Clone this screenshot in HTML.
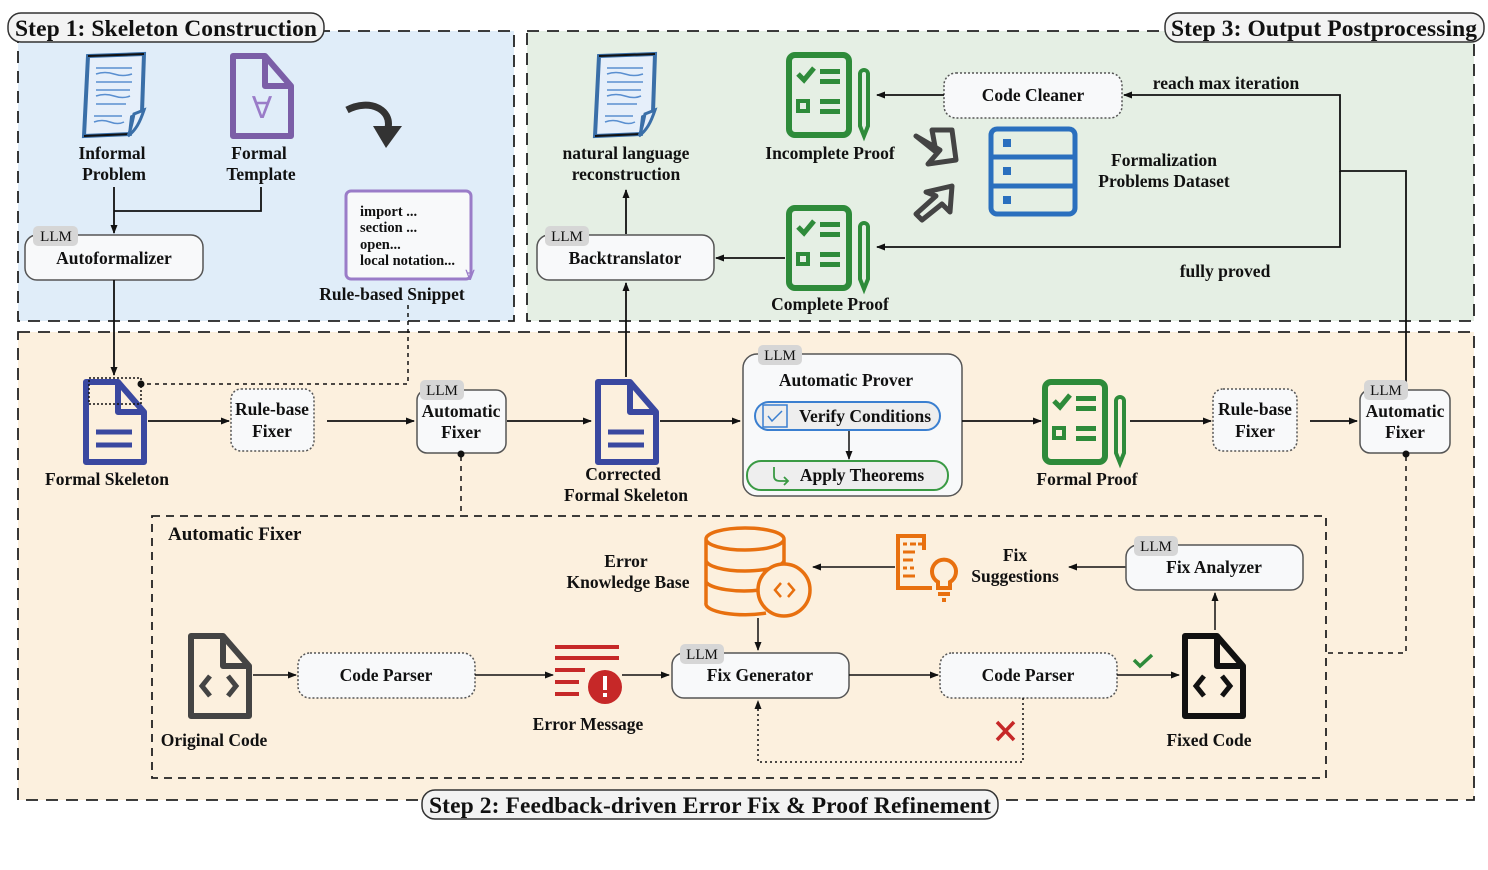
<!DOCTYPE html>
<html><head><meta charset="utf-8"><style>
html,body{margin:0;padding:0;background:#fff}
svg{display:block}
text{font-family:"Liberation Serif",serif;font-weight:bold;fill:#111}
</style></head><body>
<svg width="1488" height="870" viewBox="0 0 1488 870" xmlns="http://www.w3.org/2000/svg" font-size="17.5">
<defs>
<marker id="a" markerWidth="10" markerHeight="10" refX="8" refY="5" orient="auto" markerUnits="userSpaceOnUse"><path d="M0,1.5 L9,5 L0,8.5 Z" fill="#111"/></marker>
<g id="clip">
<rect x="3" y="3" width="60" height="80" rx="6" fill="none" stroke="#2e8b3a" stroke-width="6"/>
<path d="M12,22 l6,6 l10,-12" fill="none" stroke="#2e8b3a" stroke-width="5"/>
<rect x="34" y="17" width="20" height="5" fill="#2e8b3a"/><rect x="34" y="27" width="20" height="5" fill="#2e8b3a"/>
<rect x="12" y="49" width="10" height="10" fill="none" stroke="#2e8b3a" stroke-width="4"/>
<rect x="34" y="47" width="20" height="5" fill="#2e8b3a"/><rect x="34" y="57" width="20" height="5" fill="#2e8b3a"/>
<path d="M74,22 a4,4 0 0 1 8,0 v52 l-4,10 l-4,-10 z" fill="none" stroke="#2e8b3a" stroke-width="4"/>
</g>
<g id="scroll">
<path d="M8,4 L64,2 L62,60 L52,65 L50,82 L4,84 Z" fill="#e6effa" stroke="#3a6fa8" stroke-width="4"/>
<path d="M8,4 L64,2 M4,84 L50,82" stroke="#111" stroke-width="2" fill="none"/>
<path d="M48,84 C56,78 60,70 64,58 L54,62 C52,72 50,80 48,84Z" fill="#e6effa" stroke="#3a6fa8" stroke-width="3"/>
<g stroke="#5a8fd0" stroke-width="1.5" fill="none">
<path d="M16,16 h36 M16,22 q9,-3 18,0 t18,0 M16,30 h36 M16,38 h34 M16,44 q9,-3 18,0 t16,0 M16,52 h30 M14,64 h28 M14,70 q8,-3 16,0 t14,0"/></g>
</g>
<g id="doc">
<path d="M4,4 H36 L62,34 V84 H4 Z M36,4 V34 H62" fill="none" stroke-width="6" stroke-linejoin="round"/>
</g>
</defs>

<rect x="18" y="31" width="496" height="290" fill="#e0edf9" stroke="#222" stroke-width="1.8" stroke-dasharray="12,8"/>
<rect x="527" y="31" width="947" height="290" fill="#e5efe4" stroke="#222" stroke-width="1.8" stroke-dasharray="12,8"/>
<rect x="18" y="332" width="1456" height="468" fill="#fcf0de" stroke="#222" stroke-width="1.8" stroke-dasharray="12,8"/>
<rect x="152" y="516" width="1174" height="262" fill="none" stroke="#222" stroke-width="1.8" stroke-dasharray="8,6"/>

<rect x="8" y="13" width="316" height="29" rx="13" fill="#f3f3f3" stroke="#333" stroke-width="1.5"/>
<text x="166" y="36" font-size="23.5" text-anchor="middle" textLength="302">Step 1: Skeleton Construction</text>
<rect x="1165" y="13" width="319" height="29" rx="13" fill="#f3f3f3" stroke="#333" stroke-width="1.5"/>
<text x="1324" y="36" font-size="23.5" text-anchor="middle" textLength="306">Step 3: Output Postprocessing</text>
<rect x="422" y="790" width="576" height="29" rx="13" fill="#f3f3f3" stroke="#333" stroke-width="1.5"/>
<text x="710" y="813" font-size="23.5" text-anchor="middle" textLength="562">Step 2: Feedback-driven Error Fix &amp; Proof Refinement</text>

<!-- STEP 1 -->
<use href="#scroll" x="80" y="52"/>
<text x="112" y="159" text-anchor="middle">Informal</text>
<text x="114" y="180" text-anchor="middle">Problem</text>
<g stroke="#7b5ea7"><use href="#doc" x="229" y="52"/></g>
<text x="262" y="118" font-size="30" text-anchor="middle" style="font-weight:normal;fill:#9a7cc8">∀</text>
<text x="259" y="159" text-anchor="middle">Formal</text>
<text x="261" y="180" text-anchor="middle">Template</text>
<path d="M347,110 C370,98 392,110 388,128" fill="none" stroke="#333" stroke-width="7"/>
<path d="M373,126 L402,126 L386,148 Z" fill="#333"/>
<rect x="346" y="191" width="125" height="88" rx="5" fill="#f8f9fa" stroke="#9a7cc8" stroke-width="3"/>
<text x="360" y="216" font-size="14.5">import ...</text>
<text x="360" y="232" font-size="14.5">section ...</text>
<text x="360" y="249" font-size="14.5">open...</text>
<text x="360" y="265" font-size="14.5">local notation...</text>
<text x="470" y="280" font-size="14" style="font-weight:normal;fill:#9a7cc8" text-anchor="middle">∀</text>
<text x="392" y="300" text-anchor="middle">Rule-based Snippet</text>
<path d="M114,187 V233" stroke="#111" stroke-width="1.8" marker-end="url(#a)"/>
<path d="M261,187 V211 H114" stroke="#111" stroke-width="1.8" fill="none"/>
<rect x="25" y="235" width="178" height="45" rx="12" fill="#f8f9fa" stroke="#555" stroke-width="1.5"/>
<rect x="33" y="226" width="45" height="20" rx="5" fill="#d6d6d6"/>
<text x="56" y="241" font-size="15" text-anchor="middle" style="font-weight:normal">LLM</text>
<text x="114" y="264" text-anchor="middle">Autoformalizer</text>

<!-- STEP 3 -->
<use href="#scroll" x="591" y="52"/>
<text x="626" y="159" text-anchor="middle">natural language</text>
<text x="626" y="180" text-anchor="middle">reconstruction</text>
<use href="#clip" x="786" y="52"/>
<text x="830" y="159" text-anchor="middle">Incomplete Proof</text>
<use href="#clip" x="786" y="205"/>
<text x="830" y="310" text-anchor="middle">Complete Proof</text>
<rect x="944" y="73" width="178" height="45" rx="12" fill="#f8f9fa" stroke="#555" stroke-width="1.5" stroke-dasharray="2,2"/>
<text x="1033" y="101" text-anchor="middle">Code Cleaner</text>
<rect x="991" y="129" width="84" height="85" rx="6" fill="none" stroke="#2a6fbe" stroke-width="5"/>
<path d="M991,157 H1075 M991,186 H1075" stroke="#2a6fbe" stroke-width="5"/>
<rect x="1003" y="139" width="8" height="8" fill="#2a6fbe"/><rect x="1003" y="167" width="8" height="8" fill="#2a6fbe"/><rect x="1003" y="196" width="8" height="8" fill="#2a6fbe"/>
<path d="M916,136 L936,152 L932,130 L952,130 L956,160 L928,164 L940,150 Z" fill="none" stroke="#444" stroke-width="5" stroke-linejoin="round"/>
<path d="M916,214 L936,196 L926,192 L952,186 L950,212 L942,204 L922,220 Z" fill="none" stroke="#444" stroke-width="5" stroke-linejoin="round"/>
<text x="1164" y="166" text-anchor="middle">Formalization</text>
<text x="1164" y="187" text-anchor="middle">Problems Dataset</text>
<text x="1226" y="89" text-anchor="middle">reach max iteration</text>
<text x="1225" y="277" text-anchor="middle">fully proved</text>
<rect x="537" y="235" width="177" height="45" rx="12" fill="#f8f9fa" stroke="#555" stroke-width="1.5"/>
<rect x="545" y="226" width="44" height="20" rx="5" fill="#d6d6d6"/>
<text x="567" y="241" font-size="15" text-anchor="middle" style="font-weight:normal">LLM</text>
<text x="625" y="264" text-anchor="middle">Backtranslator</text>
<path d="M626,234 V190" stroke="#111" stroke-width="1.8" marker-end="url(#a)"/>
<path d="M785,258 H716" stroke="#111" stroke-width="1.8" marker-end="url(#a)"/>
<path d="M944,95 H877" stroke="#111" stroke-width="1.8" marker-end="url(#a)"/>
<path d="M1406,390 V171 H1340 V95 H1124" stroke="#111" stroke-width="1.8" fill="none" marker-end="url(#a)"/>
<path d="M1340,171 V247 H877" stroke="#111" stroke-width="1.8" fill="none" marker-end="url(#a)"/>

<!-- STEP 2 top row -->
<path d="M114,280 V375" stroke="#111" stroke-width="1.8" marker-end="url(#a)"/>
<g stroke="#3a48a0"><use href="#doc" x="82" y="378"/></g>
<path d="M96,432 H132 M96,445 H132" stroke="#3a48a0" stroke-width="5"/>
<rect x="89" y="378" width="52" height="26" fill="none" stroke="#111" stroke-width="1.5" stroke-dasharray="2,2"/>
<path d="M408,305 V384 H141" stroke="#111" stroke-width="1.5" fill="none" stroke-dasharray="4,4"/>
<circle cx="141" cy="384" r="3.5" fill="#111"/>
<text x="107" y="485" text-anchor="middle">Formal Skeleton</text>
<path d="M148,421 H229" stroke="#111" stroke-width="1.8" marker-end="url(#a)"/>
<rect x="231" y="389" width="83" height="62" rx="10" fill="#f8f9fa" stroke="#555" stroke-width="1.5" stroke-dasharray="2,2"/>
<text x="272" y="415" text-anchor="middle">Rule-base</text>
<text x="272" y="437" text-anchor="middle">Fixer</text>
<path d="M327,421 H414" stroke="#111" stroke-width="1.8" marker-end="url(#a)"/>
<rect x="417" y="390" width="89" height="63" rx="10" fill="#f8f9fa" stroke="#555" stroke-width="1.5"/>
<rect x="420" y="380" width="44" height="20" rx="5" fill="#d6d6d6"/>
<text x="442" y="395" font-size="15" text-anchor="middle" style="font-weight:normal">LLM</text>
<text x="461" y="417" text-anchor="middle">Automatic</text>
<text x="461" y="438" text-anchor="middle">Fixer</text>
<circle cx="461" cy="454" r="3.5" fill="#111"/>
<path d="M461,456 V516" stroke="#111" stroke-width="1.5" stroke-dasharray="5,5"/>
<path d="M507,421 H591" stroke="#111" stroke-width="1.8" marker-end="url(#a)"/>
<g stroke="#3a48a0"><use href="#doc" x="594" y="378"/></g>
<path d="M608,432 H644 M608,445 H644" stroke="#3a48a0" stroke-width="5"/>
<path d="M626,377 V283" stroke="#111" stroke-width="1.8" marker-end="url(#a)"/>
<text x="623" y="480" text-anchor="middle">Corrected</text>
<text x="626" y="501" text-anchor="middle">Formal Skeleton</text>
<path d="M660,421 H740" stroke="#111" stroke-width="1.8" marker-end="url(#a)"/>
<rect x="743" y="354" width="219" height="142" rx="14" fill="#f8f9fa" stroke="#555" stroke-width="1.5"/>
<rect x="758" y="345" width="44" height="20" rx="5" fill="#d6d6d6"/>
<text x="780" y="360" font-size="15" text-anchor="middle" style="font-weight:normal">LLM</text>
<text x="846" y="386" text-anchor="middle">Automatic Prover</text>
<rect x="755" y="402" width="185" height="28" rx="14" fill="#eeeeee" stroke="#3a7fd0" stroke-width="2"/>
<rect x="763" y="405" width="24" height="22" fill="none" stroke="#3a7fd0" stroke-width="1.5"/>
<path d="M768,416 l4,5 l10,-10" stroke="#3a7fd0" stroke-width="1.5" fill="none"/>
<text x="865" y="422" text-anchor="middle">Verify Conditions</text>
<path d="M849,431 V459" stroke="#111" stroke-width="1.5" marker-end="url(#a)"/>
<rect x="747" y="461" width="201" height="29" rx="14" fill="#eeeeee" stroke="#3a9a44" stroke-width="2"/>
<path d="M774,467 V476 Q774,481 780,481 H788 M784,477 l4,4 l-4,4" stroke="#3a9a44" stroke-width="1.8" fill="none"/>
<text x="862" y="481" text-anchor="middle">Apply Theorems</text>
<path d="M962,421 H1041" stroke="#111" stroke-width="1.8" marker-end="url(#a)"/>
<use href="#clip" x="1042" y="379"/>
<text x="1087" y="485" text-anchor="middle">Formal Proof</text>
<path d="M1130,421 H1211" stroke="#111" stroke-width="1.8" marker-end="url(#a)"/>
<rect x="1213" y="389" width="84" height="62" rx="10" fill="#f8f9fa" stroke="#555" stroke-width="1.5" stroke-dasharray="2,2"/>
<text x="1255" y="415" text-anchor="middle">Rule-base</text>
<text x="1255" y="437" text-anchor="middle">Fixer</text>
<path d="M1310,421 H1357" stroke="#111" stroke-width="1.8" marker-end="url(#a)"/>
<rect x="1360" y="390" width="90" height="63" rx="10" fill="#f8f9fa" stroke="#555" stroke-width="1.5"/>
<rect x="1364" y="380" width="44" height="20" rx="5" fill="#d6d6d6"/>
<text x="1386" y="395" font-size="15" text-anchor="middle" style="font-weight:normal">LLM</text>
<text x="1405" y="417" text-anchor="middle">Automatic</text>
<text x="1405" y="438" text-anchor="middle">Fixer</text>
<circle cx="1406" cy="454" r="3.5" fill="#111"/>
<path d="M1406,456 V653 H1326" stroke="#111" stroke-width="1.5" fill="none" stroke-dasharray="5,5"/>

<!-- inner automatic fixer -->
<text x="168" y="540" font-size="19">Automatic Fixer</text>
<text x="626" y="567" text-anchor="middle">Error</text>
<text x="628" y="588" text-anchor="middle">Knowledge Base</text>
<g fill="none" stroke="#e8700f" stroke-width="3.5">
<path d="M706,539 a39,11 0 0 0 78,0 a39,11 0 0 0 -78,0 V603 a39,11 0 0 0 60,10 M706,560 a39,11 0 0 0 78,0 M706,582 a39,11 0 0 0 54,8 M784,539 V564"/>
<circle cx="784" cy="590" r="26" fill="#fcf0de"/>
<path d="M781,583 l-6,7 l6,7 M788,583 l6,7 l-6,7" stroke-width="2.5"/>
</g>
<path d="M758,618 V650" stroke="#111" stroke-width="1.5" marker-end="url(#a)"/>
<path d="M895,567 H813" stroke="#111" stroke-width="1.5" marker-end="url(#a)"/>
<g fill="none" stroke="#e8700f" stroke-width="4">
<path d="M932,588 H898 V536 H924 V550"/>
<path d="M903,544 h4 M910,544 h6 M918,544 h4 M903,552 h12 M903,560 h10 M903,568 h4 M910,568 h4 M903,576 h12" stroke-width="3"/>
<path d="M938,582 a12,12 0 1 1 12,0 v6 h-12 z M938,594 h12 M942,600 h4"/>
</g>
<text x="1015" y="561" text-anchor="middle">Fix</text>
<text x="1015" y="582" text-anchor="middle">Suggestions</text>
<path d="M1126,567 H1069" stroke="#111" stroke-width="1.5" marker-end="url(#a)"/>
<rect x="1126" y="545" width="177" height="45" rx="12" fill="#f8f9fa" stroke="#555" stroke-width="1.5"/>
<rect x="1134" y="536" width="44" height="20" rx="5" fill="#d6d6d6"/>
<text x="1156" y="551" font-size="15" text-anchor="middle" style="font-weight:normal">LLM</text>
<text x="1214" y="573" text-anchor="middle">Fix Analyzer</text>
<path d="M1215,630 V593" stroke="#111" stroke-width="1.5" marker-end="url(#a)"/>

<g stroke="#444"><use href="#doc" x="187" y="632"/></g>
<path d="M210,676 l-8,10 l8,10 M228,676 l8,10 l-8,10" stroke="#444" stroke-width="5" fill="none"/>
<text x="214" y="746" text-anchor="middle">Original Code</text>
<path d="M253,675 H296" stroke="#111" stroke-width="1.5" marker-end="url(#a)"/>
<rect x="298" y="653" width="177" height="45" rx="12" fill="#f8f9fa" stroke="#555" stroke-width="1.5" stroke-dasharray="2,2"/>
<text x="386" y="681" text-anchor="middle">Code Parser</text>
<path d="M475,675 H553" stroke="#111" stroke-width="1.5" marker-end="url(#a)"/>
<g fill="#c62828">
<rect x="555" y="645" width="64" height="4"/><rect x="555" y="656" width="64" height="4"/><rect x="555" y="668" width="30" height="4"/><rect x="555" y="680" width="24" height="4"/><rect x="555" y="692" width="24" height="4"/>
<circle cx="605" cy="687" r="17"/></g>
<rect x="603" y="676" width="4" height="14" fill="#fff"/><rect x="603" y="693" width="4" height="4" fill="#fff"/>
<text x="588" y="730" text-anchor="middle">Error Message</text>
<path d="M622,675 H669" stroke="#111" stroke-width="1.5" marker-end="url(#a)"/>
<rect x="672" y="653" width="177" height="45" rx="12" fill="#f8f9fa" stroke="#555" stroke-width="1.5"/>
<rect x="680" y="644" width="44" height="20" rx="5" fill="#d6d6d6"/>
<text x="702" y="659" font-size="15" text-anchor="middle" style="font-weight:normal">LLM</text>
<text x="760" y="681" text-anchor="middle">Fix Generator</text>
<path d="M849,675 H938" stroke="#111" stroke-width="1.5" marker-end="url(#a)"/>
<rect x="940" y="653" width="177" height="45" rx="12" fill="#f8f9fa" stroke="#555" stroke-width="1.5" stroke-dasharray="2,2"/>
<text x="1028" y="681" text-anchor="middle">Code Parser</text>
<path d="M1023,698 V762 H758 V701" stroke="#111" stroke-width="1.5" fill="none" stroke-dasharray="2,3" marker-end="url(#a)"/>
<path d="M997,722 l17,18 M1014,722 l-17,18" stroke="#c62828" stroke-width="3.5"/>
<path d="M1134,660 l6,6 l12,-11" stroke="#2e8b3a" stroke-width="3.5" fill="none"/>
<path d="M1117,675 H1179" stroke="#111" stroke-width="1.5" marker-end="url(#a)"/>
<g stroke="#111"><use href="#doc" x="1181" y="632"/></g>
<path d="M1204,676 l-8,10 l8,10 M1222,676 l8,10 l-8,10" stroke="#111" stroke-width="5" fill="none"/>
<text x="1209" y="746" text-anchor="middle">Fixed Code</text>
</svg>
</body></html>
